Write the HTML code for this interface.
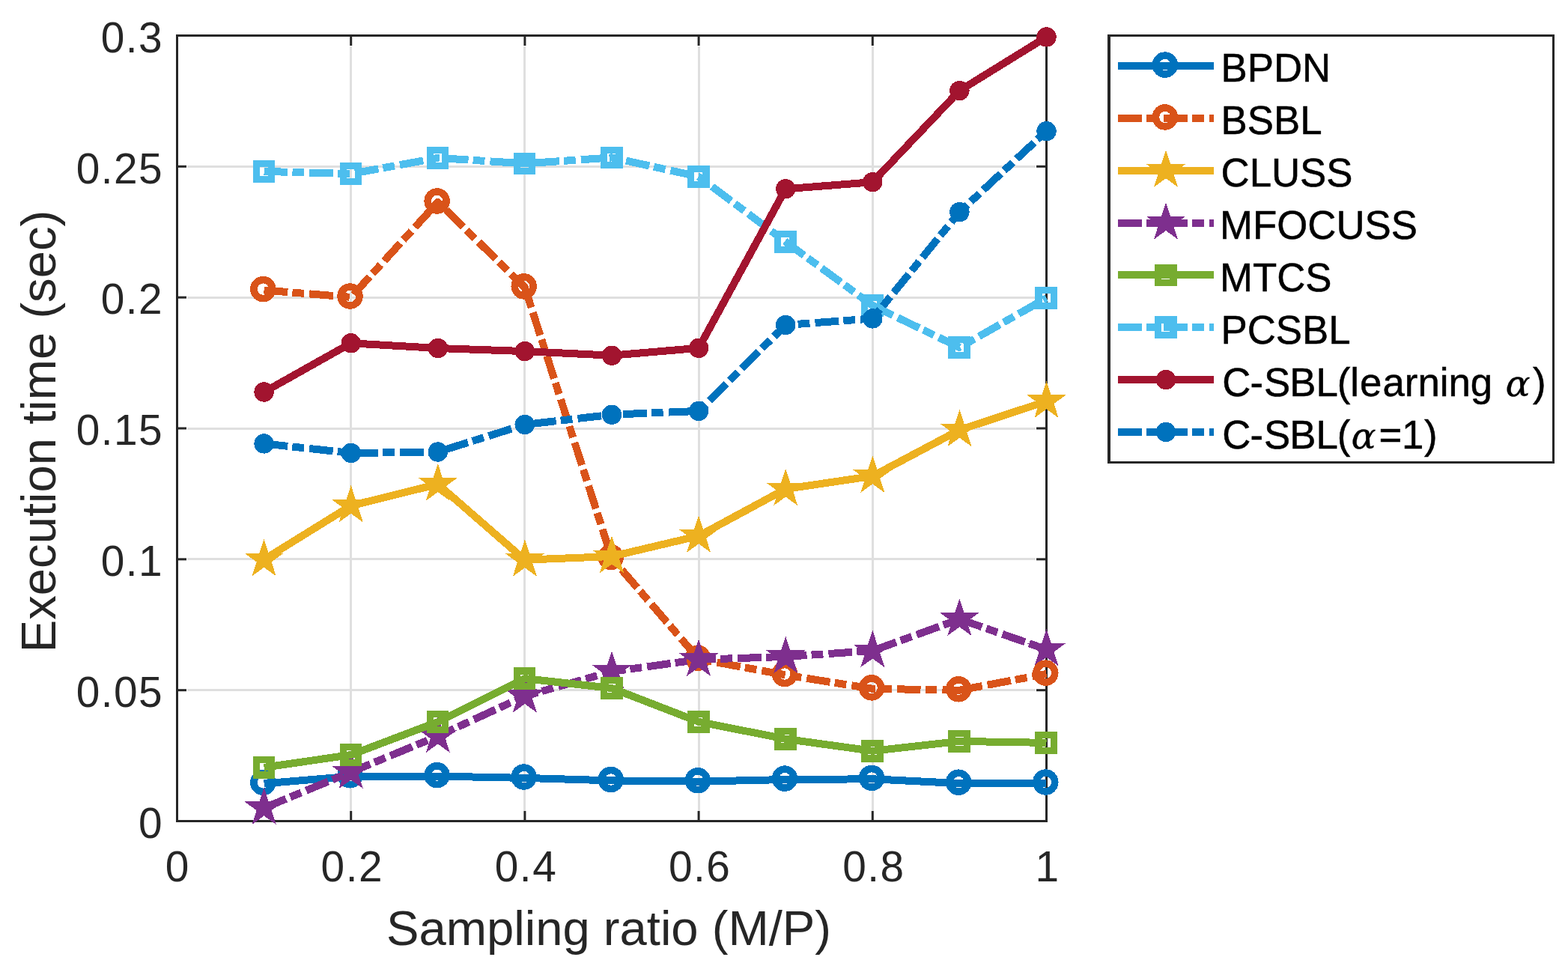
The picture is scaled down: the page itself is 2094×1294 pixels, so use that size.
<!DOCTYPE html>
<html lang="en"><head><meta charset="utf-8"><title>Execution time vs sampling ratio</title>
<style>
html,body{margin:0;padding:0;background:#fff;}
body{width:2094px;height:1294px;overflow:hidden;}
svg{display:block;}
text{font-family:"Liberation Sans",Arial,Helvetica,sans-serif;}
.tk{font-size:56.8px;fill:#262626;letter-spacing:1.5px;}
.lb{font-size:65.2px;fill:#262626;}
.lg{font-size:52.8px;fill:#000;stroke:#000;stroke-width:0.5px;}
.al{font-family:"DejaVu Serif",serif;font-style:italic;font-size:49px;stroke-width:0.3px;}
</style></head><body>
<svg width="2094" height="1294" viewBox="0 0 2094 1294">
<rect x="0" y="0" width="2094" height="1294" fill="#ffffff"/>
<g stroke="#dfdfdf" stroke-width="3" fill="none" shape-rendering="crispEdges">
<line x1="468.7" y1="62" x2="468.7" y2="1083"/>
<line x1="700.9" y1="62" x2="700.9" y2="1083"/>
<line x1="933.1" y1="62" x2="933.1" y2="1083"/>
<line x1="1165.3" y1="62" x2="1165.3" y2="1083"/>
<line x1="250" y1="921.67" x2="1383" y2="921.67"/>
<line x1="250" y1="746.83" x2="1383" y2="746.83"/>
<line x1="250" y1="572" x2="1383" y2="572"/>
<line x1="250" y1="397.17" x2="1383" y2="397.17"/>
<line x1="250" y1="222.33" x2="1383" y2="222.33"/>
</g>
<g stroke="#262626" stroke-width="3" fill="none">
<rect x="236.5" y="47.5" width="1161" height="1049"/>
<line x1="468.7" y1="1096.5" x2="468.7" y2="1083"/>
<line x1="468.7" y1="47.5" x2="468.7" y2="61"/>
<line x1="700.9" y1="1096.5" x2="700.9" y2="1083"/>
<line x1="700.9" y1="47.5" x2="700.9" y2="61"/>
<line x1="933.1" y1="1096.5" x2="933.1" y2="1083"/>
<line x1="933.1" y1="47.5" x2="933.1" y2="61"/>
<line x1="1165.3" y1="1096.5" x2="1165.3" y2="1083"/>
<line x1="1165.3" y1="47.5" x2="1165.3" y2="61"/>
<line x1="236.5" y1="921.67" x2="249" y2="921.67"/>
<line x1="1397.5" y1="921.67" x2="1384" y2="921.67"/>
<line x1="236.5" y1="746.83" x2="249" y2="746.83"/>
<line x1="1397.5" y1="746.83" x2="1384" y2="746.83"/>
<line x1="236.5" y1="572" x2="249" y2="572"/>
<line x1="1397.5" y1="572" x2="1384" y2="572"/>
<line x1="236.5" y1="397.17" x2="249" y2="397.17"/>
<line x1="1397.5" y1="397.17" x2="1384" y2="397.17"/>
<line x1="236.5" y1="222.33" x2="249" y2="222.33"/>
<line x1="1397.5" y1="222.33" x2="1384" y2="222.33"/>
</g>
<text class="tk" x="218.2" y="1118.8" text-anchor="end">0</text>
<text class="tk" x="218.2" y="943.97" text-anchor="end">0.05</text>
<text class="tk" x="218.2" y="769.13" text-anchor="end">0.1</text>
<text class="tk" x="218.2" y="594.3" text-anchor="end">0.15</text>
<text class="tk" x="218.2" y="419.47" text-anchor="end">0.2</text>
<text class="tk" x="218.2" y="244.63" text-anchor="end">0.25</text>
<text class="tk" x="218.2" y="69.8" text-anchor="end">0.3</text>
<text class="tk" x="237.4" y="1177" text-anchor="middle">0</text>
<text class="tk" x="470.3" y="1177" text-anchor="middle">0.2</text>
<text class="tk" x="702.5" y="1177" text-anchor="middle">0.4</text>
<text class="tk" x="934.7" y="1177" text-anchor="middle">0.6</text>
<text class="tk" x="1166.9" y="1177" text-anchor="middle">0.8</text>
<text class="tk" x="1399.1" y="1177" text-anchor="middle">1</text>
<text class="lb" x="813" y="1261.7" text-anchor="middle">Sampling ratio (M/P)</text>
<text class="lb" transform="translate(74.3 576) rotate(-90)" text-anchor="middle">Execution time (sec)</text>
<g shape-rendering="crispEdges">
<polyline points="352.6,1046.4 468.7,1036.7 584.8,1036.6 700.9,1038.9 817,1042.4 933.1,1043.65 1049.2,1041 1165.3,1040.3 1281.4,1046.1 1397.5,1045.9" fill="none" stroke="#0072bd" stroke-width="10" stroke-linejoin="round"/>
<circle cx="351.4" cy="1045" r="12.45" fill="none" stroke="#0072bd" stroke-width="9.6"/>
<circle cx="467.5" cy="1035.3" r="12.45" fill="none" stroke="#0072bd" stroke-width="9.6"/>
<circle cx="583.6" cy="1035.2" r="12.45" fill="none" stroke="#0072bd" stroke-width="9.6"/>
<circle cx="699.7" cy="1037.5" r="12.45" fill="none" stroke="#0072bd" stroke-width="9.6"/>
<circle cx="815.8" cy="1041" r="12.45" fill="none" stroke="#0072bd" stroke-width="9.6"/>
<circle cx="931.9" cy="1042.25" r="12.45" fill="none" stroke="#0072bd" stroke-width="9.6"/>
<circle cx="1048" cy="1039.6" r="12.45" fill="none" stroke="#0072bd" stroke-width="9.6"/>
<circle cx="1164.1" cy="1038.9" r="12.45" fill="none" stroke="#0072bd" stroke-width="9.6"/>
<circle cx="1280.2" cy="1044.7" r="12.45" fill="none" stroke="#0072bd" stroke-width="9.6"/>
<circle cx="1396.3" cy="1044.5" r="12.45" fill="none" stroke="#0072bd" stroke-width="9.6"/>
</g>
<g shape-rendering="crispEdges">
<polyline points="352.6,387.5 468.7,396.9 584.8,269.9 700.9,383.8 817,745.4 933.1,880.1 1049.2,901.4 1165.3,919.8 1281.4,921.7 1397.5,900" fill="none" stroke="#d95319" stroke-width="10" stroke-linejoin="round" stroke-dasharray="31.8 6.1 15.8 7.1"/>
<circle cx="351.4" cy="386.1" r="12.45" fill="none" stroke="#d95319" stroke-width="9.6"/>
<circle cx="467.5" cy="395.5" r="12.45" fill="none" stroke="#d95319" stroke-width="9.6"/>
<circle cx="583.6" cy="268.5" r="12.45" fill="none" stroke="#d95319" stroke-width="9.6"/>
<circle cx="699.7" cy="382.4" r="12.45" fill="none" stroke="#d95319" stroke-width="9.6"/>
<circle cx="815.8" cy="744" r="12.45" fill="none" stroke="#d95319" stroke-width="9.6"/>
<circle cx="931.9" cy="878.7" r="12.45" fill="none" stroke="#d95319" stroke-width="9.6"/>
<circle cx="1048" cy="900" r="12.45" fill="none" stroke="#d95319" stroke-width="9.6"/>
<circle cx="1164.1" cy="918.4" r="12.45" fill="none" stroke="#d95319" stroke-width="9.6"/>
<circle cx="1280.2" cy="920.3" r="12.45" fill="none" stroke="#d95319" stroke-width="9.6"/>
<circle cx="1396.3" cy="898.6" r="12.45" fill="none" stroke="#d95319" stroke-width="9.6"/>
</g>
<g shape-rendering="crispEdges">
<polyline points="352.6,747.2 468.7,675.3 584.8,646.6 700.9,747.7 817,743 933.1,715.7 1049.2,653 1165.3,635.8 1281.4,574.2 1397.5,535.9" fill="none" stroke="#edb120" stroke-width="10" stroke-linejoin="round"/>
<polygon points="352.6,719.8 358.77,738.71 378.66,738.73 362.59,750.44 368.71,769.37 352.6,757.7 336.49,769.37 342.61,750.44 326.54,738.73 346.43,738.71" fill="#edb120"/>
<polygon points="468.7,647.9 474.87,666.81 494.76,666.83 478.69,678.54 484.81,697.47 468.7,685.8 452.59,697.47 458.71,678.54 442.64,666.83 462.53,666.81" fill="#edb120"/>
<polygon points="584.8,619.2 590.97,638.11 610.86,638.13 594.79,649.84 600.91,668.77 584.8,657.1 568.69,668.77 574.81,649.84 558.74,638.13 578.63,638.11" fill="#edb120"/>
<polygon points="700.9,720.3 707.07,739.21 726.96,739.23 710.89,750.94 717.01,769.87 700.9,758.2 684.79,769.87 690.91,750.94 674.84,739.23 694.73,739.21" fill="#edb120"/>
<polygon points="817,715.6 823.17,734.51 843.06,734.53 826.99,746.24 833.11,765.17 817,753.5 800.89,765.17 807.01,746.24 790.94,734.53 810.83,734.51" fill="#edb120"/>
<polygon points="933.1,688.3 939.27,707.21 959.16,707.23 943.09,718.94 949.21,737.87 933.1,726.2 916.99,737.87 923.11,718.94 907.04,707.23 926.93,707.21" fill="#edb120"/>
<polygon points="1049.2,625.6 1055.37,644.51 1075.26,644.53 1059.19,656.24 1065.31,675.17 1049.2,663.5 1033.09,675.17 1039.21,656.24 1023.14,644.53 1043.03,644.51" fill="#edb120"/>
<polygon points="1165.3,608.4 1171.47,627.31 1191.36,627.33 1175.29,639.04 1181.41,657.97 1165.3,646.3 1149.19,657.97 1155.31,639.04 1139.24,627.33 1159.13,627.31" fill="#edb120"/>
<polygon points="1281.4,546.8 1287.57,565.71 1307.46,565.73 1291.39,577.44 1297.51,596.37 1281.4,584.7 1265.29,596.37 1271.41,577.44 1255.34,565.73 1275.23,565.71" fill="#edb120"/>
<polygon points="1397.5,508.5 1403.67,527.41 1423.56,527.43 1407.49,539.14 1413.61,558.07 1397.5,546.4 1381.39,558.07 1387.51,539.14 1371.44,527.43 1391.33,527.41" fill="#edb120"/>
</g>
<g shape-rendering="crispEdges">
<polyline points="352.6,1078.9 468.7,1031 584.8,983 700.9,929.5 817,896.8 933.1,880.8 1049.2,876.9 1165.3,869 1281.4,826.8 1397.5,867.3" fill="none" stroke="#7e2f8e" stroke-width="10" stroke-linejoin="round" stroke-dasharray="31.8 6.1 15.8 7.1"/>
<polygon points="352.6,1051.5 358.77,1070.41 378.66,1070.43 362.59,1082.14 368.71,1101.07 352.6,1089.4 336.49,1101.07 342.61,1082.14 326.54,1070.43 346.43,1070.41" fill="#7e2f8e"/>
<polygon points="468.7,1003.6 474.87,1022.51 494.76,1022.53 478.69,1034.24 484.81,1053.17 468.7,1041.5 452.59,1053.17 458.71,1034.24 442.64,1022.53 462.53,1022.51" fill="#7e2f8e"/>
<polygon points="584.8,955.6 590.97,974.51 610.86,974.53 594.79,986.24 600.91,1005.17 584.8,993.5 568.69,1005.17 574.81,986.24 558.74,974.53 578.63,974.51" fill="#7e2f8e"/>
<polygon points="700.9,902.1 707.07,921.01 726.96,921.03 710.89,932.74 717.01,951.67 700.9,940 684.79,951.67 690.91,932.74 674.84,921.03 694.73,921.01" fill="#7e2f8e"/>
<polygon points="817,869.4 823.17,888.31 843.06,888.33 826.99,900.04 833.11,918.97 817,907.3 800.89,918.97 807.01,900.04 790.94,888.33 810.83,888.31" fill="#7e2f8e"/>
<polygon points="933.1,853.4 939.27,872.31 959.16,872.33 943.09,884.04 949.21,902.97 933.1,891.3 916.99,902.97 923.11,884.04 907.04,872.33 926.93,872.31" fill="#7e2f8e"/>
<polygon points="1049.2,849.5 1055.37,868.41 1075.26,868.43 1059.19,880.14 1065.31,899.07 1049.2,887.4 1033.09,899.07 1039.21,880.14 1023.14,868.43 1043.03,868.41" fill="#7e2f8e"/>
<polygon points="1165.3,841.6 1171.47,860.51 1191.36,860.53 1175.29,872.24 1181.41,891.17 1165.3,879.5 1149.19,891.17 1155.31,872.24 1139.24,860.53 1159.13,860.51" fill="#7e2f8e"/>
<polygon points="1281.4,799.4 1287.57,818.31 1307.46,818.33 1291.39,830.04 1297.51,848.97 1281.4,837.3 1265.29,848.97 1271.41,830.04 1255.34,818.33 1275.23,818.31" fill="#7e2f8e"/>
<polygon points="1397.5,839.9 1403.67,858.81 1423.56,858.83 1407.49,870.54 1413.61,889.47 1397.5,877.8 1381.39,889.47 1387.51,870.54 1371.44,858.83 1391.33,858.81" fill="#7e2f8e"/>
</g>
<g shape-rendering="crispEdges"><circle cx="1396.3" cy="898.6" r="12.45" fill="none" stroke="#d95319" stroke-width="9.6"/></g>
<g shape-rendering="crispEdges">
<polyline points="352.6,1024.85 468.7,1008 584.8,964 700.9,906.1 817,919 933.1,963.9 1049.2,986.8 1165.3,1002.8 1281.4,989.9 1397.5,991.9" fill="none" stroke="#77ac30" stroke-width="10" stroke-linejoin="round"/>
<rect x="342.1" y="1014.65" width="20.4" height="20.4" fill="none" stroke="#77ac30" stroke-width="9.2"/>
<rect x="458.2" y="997.8" width="20.4" height="20.4" fill="none" stroke="#77ac30" stroke-width="9.2"/>
<rect x="574.3" y="953.8" width="20.4" height="20.4" fill="none" stroke="#77ac30" stroke-width="9.2"/>
<rect x="690.4" y="895.9" width="20.4" height="20.4" fill="none" stroke="#77ac30" stroke-width="9.2"/>
<rect x="806.5" y="908.8" width="20.4" height="20.4" fill="none" stroke="#77ac30" stroke-width="9.2"/>
<rect x="922.6" y="953.7" width="20.4" height="20.4" fill="none" stroke="#77ac30" stroke-width="9.2"/>
<rect x="1038.7" y="976.6" width="20.4" height="20.4" fill="none" stroke="#77ac30" stroke-width="9.2"/>
<rect x="1154.8" y="992.6" width="20.4" height="20.4" fill="none" stroke="#77ac30" stroke-width="9.2"/>
<rect x="1270.9" y="979.7" width="20.4" height="20.4" fill="none" stroke="#77ac30" stroke-width="9.2"/>
<rect x="1387" y="981.7" width="20.4" height="20.4" fill="none" stroke="#77ac30" stroke-width="9.2"/>
</g>
<g shape-rendering="crispEdges">
<polyline points="352.6,228.9 468.7,232.1 584.8,210.9 700.9,218.4 817,210.4 933.1,235.9 1049.2,322.9 1165.3,408 1281.4,464 1397.5,398" fill="none" stroke="#4dbeee" stroke-width="10" stroke-linejoin="round" stroke-dasharray="31.8 6.1 15.8 7.1"/>
<rect x="342.1" y="218.7" width="20.4" height="20.4" fill="none" stroke="#4dbeee" stroke-width="9.2"/>
<rect x="458.2" y="221.9" width="20.4" height="20.4" fill="none" stroke="#4dbeee" stroke-width="9.2"/>
<rect x="574.3" y="200.7" width="20.4" height="20.4" fill="none" stroke="#4dbeee" stroke-width="9.2"/>
<rect x="690.4" y="208.2" width="20.4" height="20.4" fill="none" stroke="#4dbeee" stroke-width="9.2"/>
<rect x="806.5" y="200.2" width="20.4" height="20.4" fill="none" stroke="#4dbeee" stroke-width="9.2"/>
<rect x="922.6" y="225.7" width="20.4" height="20.4" fill="none" stroke="#4dbeee" stroke-width="9.2"/>
<rect x="1038.7" y="312.7" width="20.4" height="20.4" fill="none" stroke="#4dbeee" stroke-width="9.2"/>
<rect x="1154.8" y="397.8" width="20.4" height="20.4" fill="none" stroke="#4dbeee" stroke-width="9.2"/>
<rect x="1270.9" y="453.8" width="20.4" height="20.4" fill="none" stroke="#4dbeee" stroke-width="9.2"/>
<rect x="1387" y="387.8" width="20.4" height="20.4" fill="none" stroke="#4dbeee" stroke-width="9.2"/>
</g>
<g shape-rendering="crispEdges">
<polyline points="352.6,523.5 468.7,458.3 584.8,465 700.9,469.1 817,474.7 933.1,464.8 1049.2,252.3 1165.3,243.2 1281.4,121.1 1397.5,49.4" fill="none" stroke="#a2142f" stroke-width="10" stroke-linejoin="round"/>
<circle cx="352.6" cy="523.5" r="13.2" fill="#a2142f"/>
<circle cx="468.7" cy="458.3" r="13.2" fill="#a2142f"/>
<circle cx="584.8" cy="465" r="13.2" fill="#a2142f"/>
<circle cx="700.9" cy="469.1" r="13.2" fill="#a2142f"/>
<circle cx="817" cy="474.7" r="13.2" fill="#a2142f"/>
<circle cx="933.1" cy="464.8" r="13.2" fill="#a2142f"/>
<circle cx="1049.2" cy="252.3" r="13.2" fill="#a2142f"/>
<circle cx="1165.3" cy="243.2" r="13.2" fill="#a2142f"/>
<circle cx="1281.4" cy="121.1" r="13.2" fill="#a2142f"/>
<circle cx="1397.5" cy="49.4" r="13.2" fill="#a2142f"/>
</g>
<g shape-rendering="crispEdges">
<polyline points="352.6,592.4 468.7,605 584.8,603.5 700.9,567 817,553.7 933.1,548.9 1049.2,434 1165.3,425.4 1281.4,283.2 1397.5,175.1" fill="none" stroke="#0072bd" stroke-width="10" stroke-linejoin="round" stroke-dasharray="31.8 6.1 15.8 7.1"/>
<circle cx="352.6" cy="592.4" r="13.2" fill="#0072bd"/>
<circle cx="468.7" cy="605" r="13.2" fill="#0072bd"/>
<circle cx="584.8" cy="603.5" r="13.2" fill="#0072bd"/>
<circle cx="700.9" cy="567" r="13.2" fill="#0072bd"/>
<circle cx="817" cy="553.7" r="13.2" fill="#0072bd"/>
<circle cx="933.1" cy="548.9" r="13.2" fill="#0072bd"/>
<circle cx="1049.2" cy="434" r="13.2" fill="#0072bd"/>
<circle cx="1165.3" cy="425.4" r="13.2" fill="#0072bd"/>
<circle cx="1281.4" cy="283.2" r="13.2" fill="#0072bd"/>
<circle cx="1397.5" cy="175.1" r="13.2" fill="#0072bd"/>
</g>
<rect x="1481.5" y="47.5" width="593" height="570" fill="#ffffff" stroke="#262626" stroke-width="3"/>
<rect x="1479" y="46" width="1.5" height="573" fill="#262626"/>
<g shape-rendering="crispEdges">
<line x1="1493" y1="88" x2="1621" y2="88" stroke="#0072bd" stroke-width="10"/>
<circle cx="1555.8" cy="86.6" r="12.45" fill="none" stroke="#0072bd" stroke-width="9.6"/>
</g>
<text class="lg" x="1630.5" y="109">BPDN</text>
<g shape-rendering="crispEdges">
<line x1="1493" y1="157.85" x2="1621" y2="157.85" stroke="#d95319" stroke-width="10" stroke-dasharray="31.8 6.1 15.8 7.1"/>
<circle cx="1555.8" cy="156.45" r="12.45" fill="none" stroke="#d95319" stroke-width="9.6"/>
</g>
<text class="lg" x="1630.5" y="179">BSBL</text>
<g shape-rendering="crispEdges">
<line x1="1493" y1="227.7" x2="1621" y2="227.7" stroke="#edb120" stroke-width="10"/>
<polygon points="1557,200.3 1563.17,219.21 1583.06,219.23 1566.99,230.94 1573.11,249.87 1557,238.2 1540.89,249.87 1547.01,230.94 1530.94,219.23 1550.83,219.21" fill="#edb120"/>
</g>
<text class="lg" x="1630.5" y="249">CLUSS</text>
<g shape-rendering="crispEdges">
<line x1="1493" y1="297.55" x2="1621" y2="297.55" stroke="#7e2f8e" stroke-width="10" stroke-dasharray="31.8 6.1 15.8 7.1"/>
<polygon points="1557,270.15 1563.17,289.06 1583.06,289.08 1566.99,300.79 1573.11,319.72 1557,308.05 1540.89,319.72 1547.01,300.79 1530.94,289.08 1550.83,289.06" fill="#7e2f8e"/>
</g>
<text class="lg" x="1629" y="319">MFOCUSS</text>
<g shape-rendering="crispEdges">
<line x1="1493" y1="367.4" x2="1621" y2="367.4" stroke="#77ac30" stroke-width="10"/>
<rect x="1546.5" y="357.2" width="20.4" height="20.4" fill="none" stroke="#77ac30" stroke-width="9.2"/>
</g>
<text class="lg" x="1629" y="389">MTCS</text>
<g shape-rendering="crispEdges">
<line x1="1493" y1="437.25" x2="1621" y2="437.25" stroke="#4dbeee" stroke-width="10" stroke-dasharray="31.8 6.1 15.8 7.1"/>
<rect x="1546.5" y="427.05" width="20.4" height="20.4" fill="none" stroke="#4dbeee" stroke-width="9.2"/>
</g>
<text class="lg" x="1630.5" y="459">PCSBL</text>
<g shape-rendering="crispEdges">
<line x1="1493" y1="507.1" x2="1621" y2="507.1" stroke="#a2142f" stroke-width="10"/>
<circle cx="1557" cy="507.1" r="13.2" fill="#a2142f"/>
</g>
<text class="lg" x="1632.2" y="529" dx="0 -0.8 0.8 -0.8 0 -1.2 0 0.9 1.1">C-SBL(learning <tspan class="al" x="2010.5">α</tspan><tspan x="2047">)</tspan></text>
<g shape-rendering="crispEdges">
<line x1="1493" y1="576.95" x2="1621" y2="576.95" stroke="#0072bd" stroke-width="10" stroke-dasharray="31.8 6.1 15.8 7.1"/>
<circle cx="1557" cy="576.95" r="13.2" fill="#0072bd"/>
</g>
<text class="lg" x="1632.2" y="599" dx="0 -0.8 0.8 -0.8 0 -1.2">C-SBL(<tspan class="al" x="1804.5">α</tspan><tspan x="1841.5">=</tspan><tspan x="1872">1</tspan><tspan x="1902">)</tspan></text>
</svg>
</body></html>
